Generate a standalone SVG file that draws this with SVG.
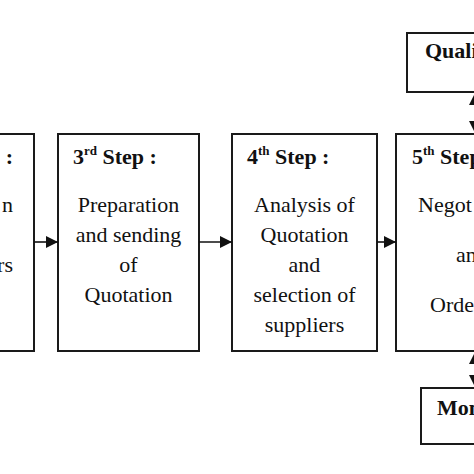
<svg xmlns="http://www.w3.org/2000/svg" width="474" height="474" viewBox="0 0 474 474">
<style>
.box{fill:#fff;stroke:#1a1a1a;stroke-width:2}
.t{font-family:"Liberation Serif","Times New Roman",serif;font-size:22px;fill:#111}
.b{font-weight:bold}
.c{text-anchor:middle}
.e{text-anchor:end}
.ln{stroke:#111;stroke-width:1.6;fill:none}
</style>
<defs>
<marker id="ah" viewBox="0 0 12 12" refX="12" refY="6" markerWidth="12" markerHeight="12" markerUnits="userSpaceOnUse" orient="auto-start-reverse">
<path d="M0,0 L12,6 L0,12 Z" fill="#111"/>
</marker>
</defs>
<rect width="474" height="474" fill="#fff"/>
<g id="step2">
<rect class="box" x="-20" y="134" width="54" height="217"/>
<text class="t b e" x="13" y="164">:</text>
<text class="t e" x="13" y="212">n</text>
<text class="t e" x="13" y="272">rs</text>
</g>
<g id="step3">
<rect class="box" x="58" y="134" width="141" height="217"/>
<text class="t b" x="73" y="164">3<tspan font-size="13" dy="-9">rd</tspan><tspan dy="9"> Step :</tspan></text>
<text class="t c" x="128.5" y="212">Preparation</text>
<text class="t c" x="128.5" y="242">and sending</text>
<text class="t c" x="128.5" y="272">of</text>
<text class="t c" x="128.5" y="302">Quotation</text>
</g>
<g id="step4">
<rect class="box" x="232" y="134" width="145" height="217"/>
<text class="t b" x="247" y="164">4<tspan font-size="13" dy="-9">th</tspan><tspan dy="9"> Step :</tspan></text>
<text class="t c" x="304.5" y="212">Analysis of</text>
<text class="t c" x="304.5" y="242">Quotation</text>
<text class="t c" x="304.5" y="272">and</text>
<text class="t c" x="304.5" y="302">selection of</text>
<text class="t c" x="304.5" y="332">suppliers</text>
</g>
<g id="step5">
<rect class="box" x="396" y="134" width="100" height="217"/>
<text class="t b" x="412" y="164">5<tspan font-size="13" dy="-9">th</tspan><tspan dy="9"> Step</tspan></text>
<text class="t" x="418" y="212">Negot</text>
<text class="t" x="456" y="262">an</text>
<text class="t" x="430" y="312">Orde</text>
</g>
<g id="quality">
<rect class="box" x="407" y="33" width="90" height="59"/>
<text class="t b" x="425" y="58">Qualit</text>
</g>
<g id="money">
<rect class="box" x="421" y="388" width="80" height="56"/>
<text class="t b" x="437" y="415">Mon</text>
</g>
<g id="connectors">
<line class="ln" x1="34" y1="242" x2="58" y2="242" marker-end="url(#ah)"/>
<line class="ln" x1="199" y1="242" x2="232" y2="242" marker-end="url(#ah)"/>
<line class="ln" x1="377" y1="242" x2="396" y2="242" marker-end="url(#ah)"/>
<line class="ln" x1="475" y1="93" x2="475" y2="133" marker-start="url(#ah)" marker-end="url(#ah)"/>
<line class="ln" x1="475" y1="352" x2="475" y2="387" marker-start="url(#ah)" marker-end="url(#ah)"/>
</g>
</svg>
